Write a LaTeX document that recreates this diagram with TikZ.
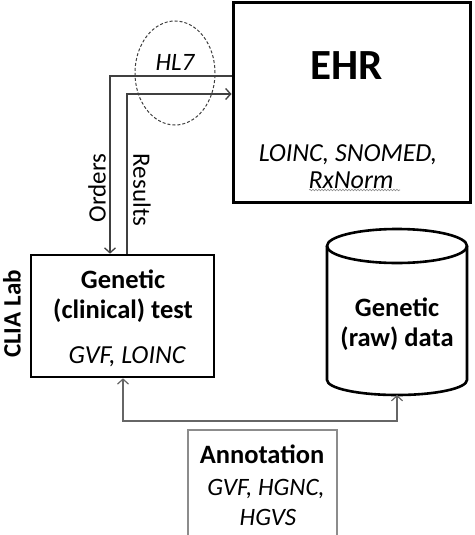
\documentclass[tikz,border=0pt]{standalone}
\usepackage{fontspec}
\setmainfont{Carlito}
\usetikzlibrary{arrows.meta,decorations.pathmorphing,calc}
\begin{document}
\begin{tikzpicture}[x=1pt,y=-1pt,
  txt/.style={inner sep=0pt, anchor=center, font=\fontsize{25}{30}\selectfont},
  btxt/.style={txt, font=\fontsize{26.5}{30}\selectfont\bfseries},
  itxt/.style={txt, font=\fontsize{26}{30}\selectfont\itshape},
  bigbox/.style={draw=black, line width=3pt, inner sep=0pt},
  annbox/.style={draw=black!45, line width=1.2pt, inner sep=0pt},
  conn/.style={draw=black!75, line width=1.3pt},
  tip/.style={-{Straight Barb[length=5pt,width=11pt]}},
  dtip/.style={{Straight Barb[length=5pt,width=11pt]}-{Straight Barb[length=5pt,width=11pt]}},
]
\useasboundingbox (0,0) rectangle (474,535);
\fill[white] (0,0) rectangle (474,535);

% EHR box
\node[bigbox, minimum width=237pt, minimum height=199pt] (ehr) at (351.5,102.5) {};
\node[btxt, font=\fontsize{43}{48}\selectfont\bfseries] (ehrt) at (347,66) {EHR};
\node[itxt] (ehr1) at (348,155) {LOINC, SNOMED,};
\node[itxt] (ehr2) at (351,180) {RxNorm};
\draw[black!45, line width=0.6pt, decoration={snake, amplitude=0.8pt, segment length=3pt}, decorate]
  (309,190) -- (400,190);

% HL7 ellipse
\draw[black!75, line width=1pt, dash pattern=on 3pt off 2pt] (175,73) ellipse [x radius=40pt, y radius=52pt];
\node[itxt, font=\fontsize{25}{30}\selectfont\itshape] (hl7) at (175,62) {HL7};

% Genetic clinical test box
\node[bigbox, line width=2.6pt, minimum width=183pt, minimum height=122pt] (test) at (122.5,316) {};
\node[btxt] (t1) at (123,279) {Genetic};
\node[btxt] (t2) at (123,311) {(clinical) test};
\node[itxt] (t3) at (127,357) {GVF, LOINC};
\node[btxt, font=\fontsize{25}{30}\selectfont\bfseries, rotate=90] (clia) at (12,314) {CLIA Lab};

% Orders / Results
\draw[conn, tip] (ehr.west |- 0,76) -| (test.north -| 110,0);
\draw[conn, tip] (test.north -| 127,0) |- (ehr.west |- 0,94);
\node[txt, rotate=90] (orders) at (97,188) {Orders};
\node[txt, rotate=-90] (results) at (142,190) {Results};

% Cylinder
\draw[line width=2.6pt] (397,246) ellipse [x radius=70pt, y radius=17pt];
\draw[line width=2.6pt] (327,246) -- (327,380)
  arc[start angle=180, end angle=360, x radius=70pt, y radius=15pt] -- (467,246);
\coordinate (cylb) at (397,395);
\node[btxt] (c1) at (397,307) {Genetic};
\node[btxt] (c2) at (397,339) {(raw) data};

% Annotation link
\draw[conn, draw=black!60, line width=1.2pt, dtip] (test.south -| 123,0) -- (123,421) -| (cylb);

% Annotation box
\node[annbox, minimum width=149pt, minimum height=106pt] (ann) at (262.5,483) {};
\node[btxt] (a1) at (262,454) {Annotation};
\node[itxt, font=\fontsize{25}{30}\selectfont\itshape] (a2) at (266,489) {GVF, HGNC,};
\node[itxt, font=\fontsize{25}{30}\selectfont\itshape] (a3) at (268,517) {HGVS};
\end{tikzpicture}
\end{document}
